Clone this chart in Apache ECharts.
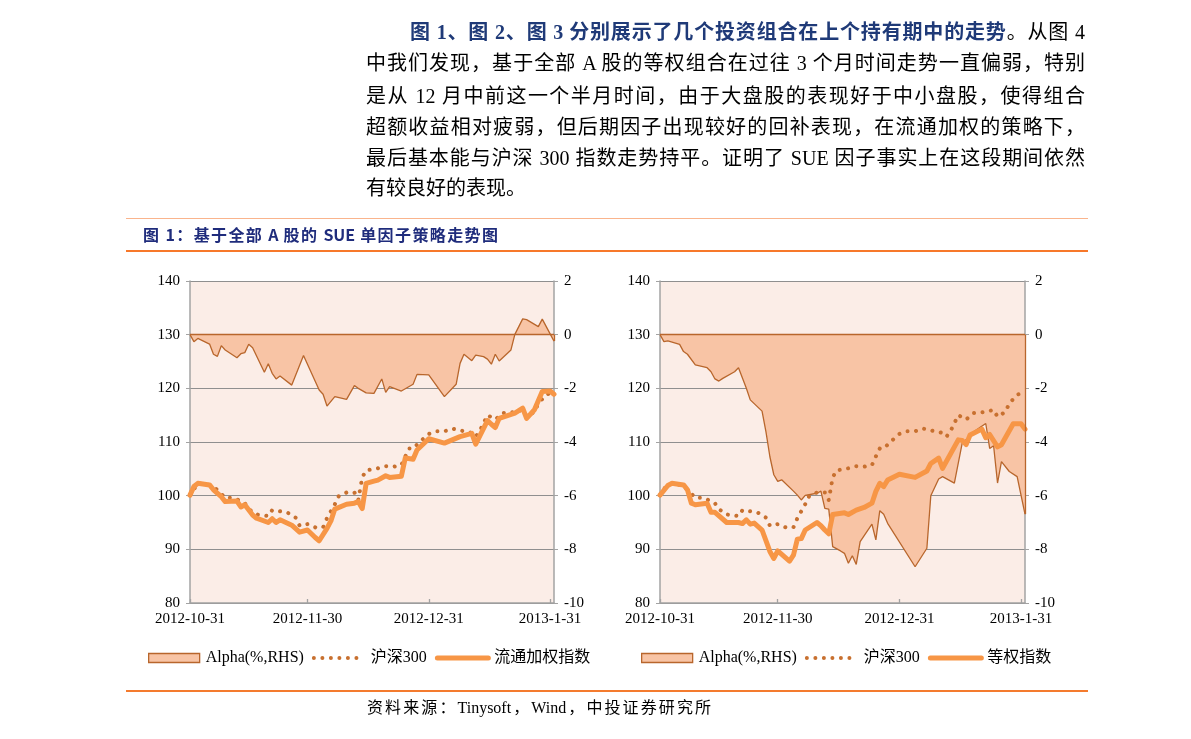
<!DOCTYPE html>
<html><head><meta charset="utf-8">
<script src="https://cdn.jsdelivr.net/npm/echarts@6/dist/echarts.min.js"></script>
<style>
html,body{margin:0;padding:0;background:#fff;width:1191px;height:739px;overflow:hidden;}
#chart{position:absolute;left:0;top:0;width:1191px;height:739px;}
.t{position:absolute;}
.j{text-align:justify;text-align-last:justify;}
.p{font-family:"Liberation Serif","Noto Sans CJK SC",serif;font-size:20px;line-height:30px;height:30px;color:#000;}
.b{font-weight:bold;color:#1F3A78;}
.hr{position:absolute;left:126px;width:962px;}
</style></head>
<body>
<div id="chart"></div>
<div class="t p j" style="left:410px;top:17px;width:675px;"><span class="b">图 1、图 2、图 3 分别展示了几个投资组合在上个持有期中的走势</span>。从图 4</div>
<div class="t p j" style="left:366px;top:48px;width:719px;">中我们发现，基于全部 A 股的等权组合在过往 3 个月时间走势一直偏弱，特别</div>
<div class="t p j" style="left:366px;top:81px;width:719px;">是从 12 月中前这一个半月时间，由于大盘股的表现好于中小盘股，使得组合</div>
<div class="t p j" style="left:366px;top:112px;width:719px;">超额收益相对疲弱，但后期因子出现较好的回补表现，在流通加权的策略下，</div>
<div class="t p j" style="left:366px;top:143px;width:719px;">最后基本能与沪深 300 指数走势持平。证明了 SUE 因子事实上在这段期间依然</div>
<div class="t p" style="left:366px;top:173px;">有较良好的表现。</div>
<div class="hr" style="top:218px;height:1px;background:#FAB48C;"></div>
<div class="t j" style="left:143px;top:223px;width:355px;font-family:'Noto Sans CJK SC',sans-serif;font-weight:bold;font-size:16px;line-height:22px;color:#1F2C7C;">图 1：基于全部 A 股的 SUE 单因子策略走势图</div>
<div class="hr" style="top:250px;height:2px;background:#F7782A;"></div>
<div class="hr" style="top:690px;height:2px;background:#F47B2E;"></div>
<div class="t j" style="left:367px;top:697px;width:344px;font-family:'Liberation Serif','Noto Sans CJK SC',serif;font-size:16px;line-height:22px;color:#000;">资料来源：Tinysoft，Wind，中投证券研究所</div>
<script>
// ---------- data ----------
const tickDates = ['2012-10-31','2012-11-30','2012-12-31','2013-01-31'];
const tickLabels = ['2012-10-31','2012-11-30','2012-12-31','2013-1-31'];
const leftAxisTicks = [80,90,100,110,120,130,140];
const rightAxisTicks = [-10,-8,-6,-4,-2,0,2];

// 沪深300 (same in both panels)
const hs300Dates = ['2012-10-31','2012-11-02','2012-11-05','2012-11-07','2012-11-09','2012-11-11','2012-11-12','2012-11-14','2012-11-15','2012-11-17','2012-11-20','2012-11-21','2012-11-23','2012-11-25','2012-11-27','2012-11-28','2012-11-30','2012-12-02','2012-12-04','2012-12-05','2012-12-07','2012-12-08','2012-12-10','2012-12-12','2012-12-13','2012-12-14','2012-12-15','2012-12-18','2012-12-20','2012-12-22','2012-12-24','2012-12-25','2012-12-26','2012-12-27','2012-12-29','2012-12-31','2013-01-02','2013-01-04','2013-01-06','2013-01-09','2013-01-11','2013-01-12','2013-01-13','2013-01-14','2013-01-15','2013-01-17','2013-01-19','2013-01-22','2013-01-24','2013-01-25','2013-01-27','2013-01-28','2013-01-30','2013-02-01'];
const hs300Values = [100.1,102.3,102.0,101.1,99.6,99.6,99.3,98.6,97.5,96.5,96.2,97.3,97.1,96.8,95.9,94.4,94.7,94.1,94.1,95.8,98.4,99.9,100.6,100.6,99.2,103.4,104.7,105.1,105.5,105.4,105.7,107.3,108.8,108.8,110.2,111.5,112.0,112.0,112.5,112.0,111.7,111.0,112.0,113.5,115.0,114.2,115.4,115.6,116.0,114.7,115.6,117.2,118.8,119.4];

// 左图：流通加权
const leftAlphaDates = ['2012-10-31','2012-11-01','2012-11-02','2012-11-05','2012-11-06','2012-11-07','2012-11-08','2012-11-09','2012-11-12','2012-11-13','2012-11-14','2012-11-15','2012-11-16','2012-11-19','2012-11-20','2012-11-21','2012-11-22','2012-11-23','2012-11-26','2012-11-29','2012-12-03','2012-12-04','2012-12-05','2012-12-07','2012-12-10','2012-12-12','2012-12-13','2012-12-15','2012-12-17','2012-12-19','2012-12-20','2012-12-21','2012-12-24','2012-12-27','2012-12-28','2012-12-31','2013-01-04','2013-01-07','2013-01-08','2013-01-09','2013-01-11','2013-01-12','2013-01-14','2013-01-15','2013-01-16','2013-01-17','2013-01-18','2013-01-21','2013-01-22','2013-01-24','2013-01-25','2013-01-28','2013-01-29','2013-02-01'];
const leftAlphaValues = [0,-0.26,-0.14,-0.35,-0.73,-0.81,-0.41,-0.57,-0.86,-0.71,-0.67,-0.36,-0.49,-1.40,-1.08,-1.44,-1.65,-1.54,-1.88,-0.78,-2.06,-2.22,-2.66,-2.31,-2.41,-1.90,-2.00,-2.17,-2.19,-1.65,-2.15,-1.94,-2.10,-1.85,-1.48,-1.50,-2.31,-1.85,-1.07,-0.73,-0.97,-0.76,-0.82,-0.91,-1.10,-0.73,-0.98,-0.57,0.01,0.59,0.56,0.30,0.58,-0.24];
const leftIndexDates = ['2012-10-31','2012-11-01','2012-11-02','2012-11-05','2012-11-06','2012-11-08','2012-11-09','2012-11-12','2012-11-13','2012-11-14','2012-11-16','2012-11-17','2012-11-20','2012-11-21','2012-11-22','2012-11-23','2012-11-26','2012-11-28','2012-11-30','2012-12-02','2012-12-03','2012-12-05','2012-12-06','2012-12-07','2012-12-10','2012-12-12','2012-12-13','2012-12-14','2012-12-15','2012-12-17','2012-12-18','2012-12-20','2012-12-21','2012-12-24','2012-12-25','2012-12-27','2012-12-28','2012-12-31','2013-01-04','2013-01-08','2013-01-11','2013-01-12','2013-01-15','2013-01-16','2013-01-17','2013-01-18','2013-01-22','2013-01-24','2013-01-25','2013-01-27','2013-01-29','2013-01-31','2013-02-01'];
const leftIndexValues = [100.1,101.7,102.3,102.0,101.1,99.8,98.9,99.0,97.9,98.3,96.4,95.8,95.0,95.7,95.0,95.5,94.5,93.2,93.6,92.2,91.6,93.9,95.3,97.5,98.4,98.6,98.9,97.6,102.3,102.7,102.9,103.7,103.4,103.6,107.0,106.8,108.5,110.6,109.8,111.0,111.6,109.6,114.0,113.3,112.7,114.4,115.4,116.3,114.4,116.0,119.4,119.5,118.9];

// 右图：等权
const rightAlphaDates = ['2012-10-31','2012-11-01','2012-11-02','2012-11-05','2012-11-06','2012-11-07','2012-11-09','2012-11-12','2012-11-13','2012-11-14','2012-11-15','2012-11-16','2012-11-19','2012-11-20','2012-11-22','2012-11-23','2012-11-26','2012-11-27','2012-11-28','2012-11-29','2012-11-30','2012-12-01','2012-12-04','2012-12-05','2012-12-06','2012-12-07','2012-12-10','2012-12-11','2012-12-12','2012-12-13','2012-12-14','2012-12-16','2012-12-17','2012-12-18','2012-12-19','2012-12-20','2012-12-21','2012-12-24','2012-12-25','2012-12-26','2012-12-27','2012-12-28','2013-01-04','2013-01-07','2013-01-08','2013-01-10','2013-01-11','2013-01-14','2013-01-16','2013-01-17','2013-01-19','2013-01-22','2013-01-23','2013-01-24','2013-01-25','2013-01-26','2013-01-28','2013-01-30','2013-02-01'];
const rightAlphaValues = [0,-0.26,-0.23,-0.36,-0.63,-0.73,-1.13,-1.23,-1.38,-1.65,-1.73,-1.63,-1.38,-1.23,-2.00,-2.43,-2.85,-3.62,-4.55,-5.22,-5.47,-5.41,-5.83,-5.98,-6.16,-5.99,-5.91,-5.83,-6.47,-6.50,-7.90,-8.06,-8.15,-8.52,-8.24,-8.56,-7.71,-7.06,-7.65,-6.56,-6.69,-7.03,-8.65,-7.96,-6.00,-5.38,-5.29,-5.53,-4.04,-3.92,-3.61,-3.31,-4.24,-4.14,-5.53,-4.73,-5.10,-5.29,-6.69];
const rightIndexDates = ['2012-10-31','2012-11-02','2012-11-03','2012-11-06','2012-11-07','2012-11-08','2012-11-09','2012-11-12','2012-11-13','2012-11-14','2012-11-17','2012-11-20','2012-11-21','2012-11-22','2012-11-23','2012-11-24','2012-11-26','2012-11-28','2012-11-29','2012-11-30','2012-12-03','2012-12-04','2012-12-05','2012-12-06','2012-12-07','2012-12-10','2012-12-11','2012-12-12','2012-12-13','2012-12-14','2012-12-17','2012-12-18','2012-12-20','2012-12-22','2012-12-24','2012-12-25','2012-12-26','2012-12-27','2012-12-28','2012-12-31','2013-01-04','2013-01-07','2013-01-08','2013-01-10','2013-01-11','2013-01-15','2013-01-16','2013-01-17','2013-01-18','2013-01-21','2013-01-22','2013-01-23','2013-01-25','2013-01-26','2013-01-29','2013-01-31','2013-02-01'];
const rightIndexValues = [100.1,101.9,102.3,102.0,101.1,98.6,98.3,98.6,96.9,96.9,95.0,95.0,94.8,95.5,94.7,94.9,93.6,89.6,88.3,89.7,87.8,88.9,91.9,92.0,93.6,95.0,94.4,93.6,92.9,96.5,96.8,96.5,97.3,97.8,98.6,100.8,102.3,101.7,102.9,104.0,103.4,104.6,106.0,107.0,105.1,110.4,110.3,109.5,111.3,112.4,110.8,111.4,109.1,109.5,113.4,113.4,112.4];

const legendLeft = ['Alpha(%,RHS)','沪深300','流通加权指数'];
const legendRight = ['Alpha(%,RHS)','沪深300','等权指数'];

// ---------- helpers ----------
const DAY0 = Date.parse('2012-10-31');
const toDay = s => Math.round((Date.parse(s) - DAY0) / 86400000);
const pairs = (dates, vals) => dates.map((d, i) => [toDay(d), vals[i]]);
const tickDays = tickDates.map(toDay);
const lastDay = toDay('2013-02-01');

const C = {
  bg:'#FBEDE7', fill:'#F8C4A5', aLine:'#B8662C', dots:'#C8702F', idx:'#F79646',
  grid:'#8F8F8F', axis:'#A3A3A3', text:'#000'
};
const FONT = '"Liberation Serif","Noto Sans CJK SC",serif';
const DOTS = {color:C.dots, width:4, type:[0.01, 8.5], cap:'round', join:'round'};
const THICK = {color:C.idx, width:5, cap:'round', join:'round'};

const grids = [
  {left:190, top:281, width:364, height:322, show:true, backgroundColor:C.bg, borderWidth:0},
  {left:660, top:281, width:365, height:322, show:true, backgroundColor:C.bg, borderWidth:0}
];

function xAxis(g){
  return {gridIndex:g, type:'value', min:0, max:lastDay,
    axisLine:{onZero:false, lineStyle:{color:C.axis, width:1.5}},
    axisTick:{inside:true, length:4, customValues:tickDays, lineStyle:{color:C.axis, width:1.3}},
    axisLabel:{customValues:tickDays, margin:9, color:C.text, fontFamily:FONT, fontSize:15,
      formatter: v => tickLabels[tickDays.indexOf(Math.round(v))] || ''},
    splitLine:{show:false}};
}
function yLeft(g){
  return {gridIndex:g, type:'value', position:'left', min:80, max:140, interval:10,
    axisLine:{show:true, lineStyle:{color:C.axis, width:1.5}},
    axisTick:{show:true, length:4, lineStyle:{color:C.axis}},
    axisLabel:{margin:10, color:C.text, fontFamily:FONT, fontSize:15},
    splitLine:{show:true, lineStyle:{color:C.grid, width:1.2}}};
}
function yRight(g){
  return {gridIndex:g, type:'value', position:'right', min:-10, max:2, interval:2,
    axisLine:{show:true, lineStyle:{color:C.axis, width:1.5}},
    axisTick:{show:true, length:4, lineStyle:{color:C.axis}},
    axisLabel:{margin:10, color:C.text, fontFamily:FONT, fontSize:15},
    splitLine:{show:false}};
}

function alphaSeries(g, dates, vals){
  const lastD = toDay(dates[dates.length-1]), lastV = vals[vals.length-1];
  return {type:'line', name:'Alpha(%,RHS)', xAxisIndex:g, yAxisIndex:g*2+1,
    data:pairs(dates, vals), symbol:'none', z:1,
    lineStyle:{color:C.aLine, width:1.3}, itemStyle:{color:C.fill, borderColor:C.aLine},
    areaStyle:{color:C.fill, opacity:1, origin:0},
    markLine:{silent:true, symbol:'none', label:{show:false}, animation:false,
      lineStyle:{color:C.aLine, width:1.3, type:'solid'},
      data:[{yAxis:0}, [{coord:[lastD,lastV]},{coord:[lastD,0]}]]}};
}
function hsSeries(g){
  return {type:'line', name:'沪深300', xAxisIndex:g, yAxisIndex:g*2,
    data:pairs(hs300Dates, hs300Values), symbol:'none', z:3,
    itemStyle:{color:C.dots}, lineStyle:DOTS};
}
function idxSeries(g, name, dates, vals){
  return {type:'line', name:name, xAxisIndex:g, yAxisIndex:g*2,
    data:pairs(dates, vals), symbol:'none', z:4,
    itemStyle:{color:C.idx}, lineStyle:THICK};
}

function legend(left, names){
  return {left:left, top:650, padding:0, itemWidth:51, itemHeight:9, itemGap:8,
    textStyle:{color:C.text, fontFamily:FONT, fontSize:16, padding:[0,0,0,1]},
    data:[
      {name:names[0], icon:'rect', itemStyle:{color:C.fill, borderColor:C.aLine, borderWidth:1.3}},
      {name:names[1], itemStyle:{opacity:0}, lineStyle:DOTS},
      {name:names[2], itemStyle:{opacity:0}, lineStyle:THICK}
    ]};
}

const chart = echarts.init(document.getElementById('chart'), null, {renderer:'canvas'});
chart.setOption({
  animation:false,
  backgroundColor:'transparent',
  grid:grids,
  xAxis:[xAxis(0), xAxis(1)],
  yAxis:[yLeft(0), yRight(0), yLeft(1), yRight(1)],
  legend:[legend(148, legendLeft), legend(641, legendRight)],
  series:[
    alphaSeries(0, leftAlphaDates, leftAlphaValues),
    hsSeries(0),
    idxSeries(0, legendLeft[2], leftIndexDates, leftIndexValues),
    alphaSeries(1, rightAlphaDates, rightAlphaValues),
    hsSeries(1),
    idxSeries(1, legendRight[2], rightIndexDates, rightIndexValues)
  ]
});
</script>
</body></html>
